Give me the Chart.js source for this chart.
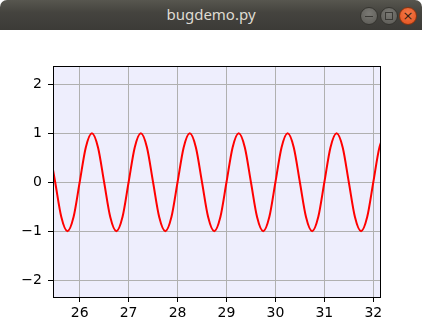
<!DOCTYPE html>
<html>
<head>
<meta charset="utf-8">
<script src="https://cdn.jsdelivr.net/npm/chart.js@4/dist/chart.umd.min.js"></script>
<style>
  html, body { margin: 0; padding: 0; background: #ffffff; width: 422px; height: 330px; overflow: hidden; }
  #titlebar {
    position: absolute; left: 0; top: 0; width: 422px; height: 30px;
    background: linear-gradient(#57564f, #45443f 40%, #3c3b37);
    border-radius: 7px 7px 0 0;
  }
  #title {
    position: absolute; left: 0; top: 0; width: 422px; text-align: center;
    color: #dfdbd2; font-family: "Noto Sans", "DejaVu Sans", sans-serif; font-size: 15px;
    line-height: 29px; font-weight: 400;
  }
  .btn {
    position: absolute; top: 7px; width: 18px; height: 18px; border-radius: 50%;
    box-sizing: border-box;
  }
  .gray { background: radial-gradient(circle at 50% 35%, #7a7974, #5a5954); border: 1px solid #35342f; }
  .close { background: radial-gradient(circle at 50% 35%, #f47a4a, #e2501c); border: 1px solid #8a3410; }
  #wrap { position: absolute; left: 0; top: 30px; width: 422px; height: 300px; }
</style>
</head>
<body>
<div id="titlebar">
  <div id="title">bugdemo.py</div>
  <div class="btn gray" style="left:360px">
    <div style="position:absolute;left:4px;top:7.5px;width:8px;height:1.5px;background:#3a3935"></div>
  </div>
  <div class="btn gray" style="left:380px">
    <div style="position:absolute;left:4px;top:4px;width:8px;height:8px;box-sizing:border-box;border:1.5px solid #3a3935"></div>
  </div>
  <div class="btn close" style="left:399px">
    <div style="position:absolute;left:0;top:0;width:16px;height:16px;line-height:15px;text-align:center;color:#3a2010;font-size:13px;font-family:'DejaVu Sans',sans-serif">×</div>
  </div>
</div>
<div id="wrap"><canvas id="c" width="422" height="300"></canvas></div>
<script>
const xValues = [
  25.375, 25.5, 25.625, 25.75, 25.875,
  26.0, 26.125, 26.25, 26.375, 26.5, 26.625, 26.75, 26.875,
  27.0, 27.125, 27.25, 27.375, 27.5, 27.625, 27.75, 27.875,
  28.0, 28.125, 28.25, 28.375, 28.5, 28.625, 28.75, 28.875,
  29.0, 29.125, 29.25, 29.375, 29.5, 29.625, 29.75, 29.875,
  30.0, 30.125, 30.25, 30.375, 30.5, 30.625, 30.75, 30.875,
  31.0, 31.125, 31.25, 31.375, 31.5, 31.625, 31.75, 31.875,
  32.0, 32.125, 32.25
];
const yValues = [
  0.71, 0, -0.71, -1, -0.71,
  0, 0.71, 1, 0.71, 0, -0.71, -1, -0.71,
  0, 0.71, 1, 0.71, 0, -0.71, -1, -0.71,
  0, 0.71, 1, 0.71, 0, -0.71, -1, -0.71,
  0, 0.71, 1, 0.71, 0, -0.71, -1, -0.71,
  0, 0.71, 1, 0.71, 0, -0.71, -1, -0.71,
  0, 0.71, 1, 0.71, 0, -0.71, -1, -0.71,
  0, 0.71, 1
];
const xLimits = [25.455, 32.137];
const yLimits = [-2.34, 2.37];
const xTickLabels = [26, 27, 28, 29, 30, 31, 32];
const yTickLabels = [-2, -1, 0, 1, 2];

const points = xValues.map((x, i) => ({ x: x, y: yValues[i] }));

const frame = {
  id: 'frame',
  beforeDraw(chart) {
    const a = chart.chartArea, ctx = chart.ctx;
    ctx.save();
    ctx.fillStyle = '#eeeefd';
    ctx.fillRect(a.left, a.top, a.right - a.left, a.bottom - a.top);
    ctx.restore();
  },
  afterDatasetsDraw(chart) {
    const a = chart.chartArea, ctx = chart.ctx;
    ctx.save();
    ctx.strokeStyle = '#000000';
    ctx.lineWidth = 1;
    const l = Math.round(a.left) + 0.5, t = Math.round(a.top) + 0.5;
    const r = Math.round(a.right) + 0.5, b = Math.round(a.bottom) + 0.5;
    ctx.strokeRect(l, t, r - l, b - t);
    ctx.restore();
  }
};

const tickFont = { family: 'DejaVu Sans', size: 14 };
const fmt = v => String(v).replace('-', '\u2212');

new Chart(document.getElementById('c'), {
  type: 'line',
  data: {
    datasets: [{
      data: points,
      borderColor: '#ff0000',
      borderWidth: 2,
      pointRadius: 0,
      cubicInterpolationMode: 'monotone',
      fill: false
    }]
  },
  options: {
    responsive: false,
    animation: false,
    plugins: { legend: { display: false }, tooltip: { enabled: false } },
    layout: { padding: { left: 0, top: 36, right: 42, bottom: 0 } },
    scales: {
      x: {
        type: 'linear',
        min: xLimits[0], max: xLimits[1],
        afterFit(s) { s.height = 33; },
        afterBuildTicks(s) { s.ticks = xTickLabels.map(v => ({ value: v })); },
        ticks: { font: tickFont, color: '#000000', padding: 3, maxRotation: 0, autoSkip: false,
                 callback: v => fmt(v) },
        grid: { color: '#b0b0b0', lineWidth: 1, tickColor: '#000000', tickLength: 5, drawTicks: true },
        border: { display: false }
      },
      y: {
        type: 'linear',
        min: yLimits[0], max: yLimits[1],
        afterFit(s) { s.width = 53; },
        afterBuildTicks(s) { s.ticks = yTickLabels.map(v => ({ value: v })); },
        ticks: { font: tickFont, color: '#000000', padding: 6, autoSkip: false,
                 callback: v => fmt(v) },
        grid: { color: '#b0b0b0', lineWidth: 1, tickColor: '#000000', tickLength: 5, drawTicks: true },
        border: { display: false }
      }
    }
  },
  plugins: [frame]
});
</script>
</body>
</html>
